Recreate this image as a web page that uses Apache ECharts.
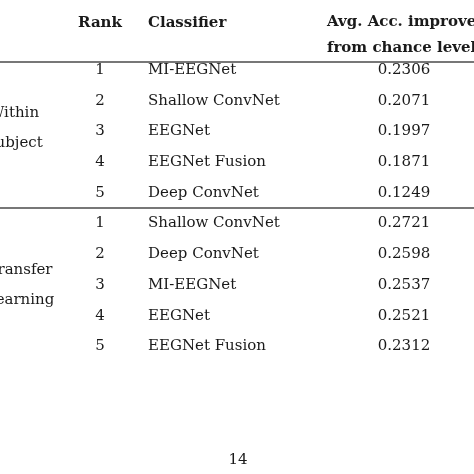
<!DOCTYPE html>
<html><head><meta charset="utf-8">
<script src="https://cdn.jsdelivr.net/npm/echarts@6/dist/echarts.min.js"></script>
<style>html,body{margin:0;padding:0;background:#fff}#c{width:474px;height:474px}</style>
</head><body><div id="c"></div>
<script>
var groups = ['Within\nSubject', 'Transfer\nLearning'];
var ranks = [1, 2, 3, 4, 5];
var classifiersWithin = ['MI-EEGNet', 'Shallow ConvNet', 'EEGNet', 'EEGNet Fusion', 'Deep ConvNet'];
var valuesWithin = ['0.2306', '0.2071', '0.1997', '0.1871', '0.1249'];
var classifiersTransfer = ['Shallow ConvNet', 'Deep ConvNet', 'MI-EEGNet', 'EEGNet', 'EEGNet Fusion'];
var valuesTransfer = ['0.2721', '0.2598', '0.2537', '0.2521', '0.2312'];
var headers = ['Rank', 'Classifier', 'Avg. Acc. improvement\nfrom chance level'];
var pageNumber = '14';

var F = '"DejaVu Serif", "Liberation Serif", serif';
var els = [];
function t(x, y, s, align, bold, lh) {
  els.push({type: 'text', x: x, y: y, style: {text: s, fill: '#1a1a1a', font: (bold ? 'bold ' : '') + '15px ' + F,
    textAlign: align, textVerticalAlign: 'middle', lineHeight: lh || 30}});
}
t(100, 23, headers[0], 'center', true);
t(148, 23, headers[1], 'left', true);
t(327, 35, headers[2], 'left', true, 26);
function line(y) { els.push({type: 'line', shape: {x1: 0, y1: y, x2: 474, y2: y}, style: {stroke: '#777', lineWidth: 2}}); }
line(62); line(208);
var rowsW = [70, 101, 131, 162, 193], rowsT = [223, 254, 285, 316, 346];
[[classifiersWithin, valuesWithin, rowsW], [classifiersTransfer, valuesTransfer, rowsT]].forEach(function (g, gi) {
  g[2].forEach(function (y, i) {
    t(100, y, String(ranks[i]), 'center');
    t(148, y, g[0][i], 'left');
    t(404, y, g[1][i], 'center');
  });
});
t(14, 128, groups[0], 'center');
t(20, 285, groups[1], 'center');
t(238, 460, pageNumber, 'center');
var chart = echarts.init(document.getElementById('c'));
chart.setOption({backgroundColor: '#fff', graphic: els});
</script></body></html>
